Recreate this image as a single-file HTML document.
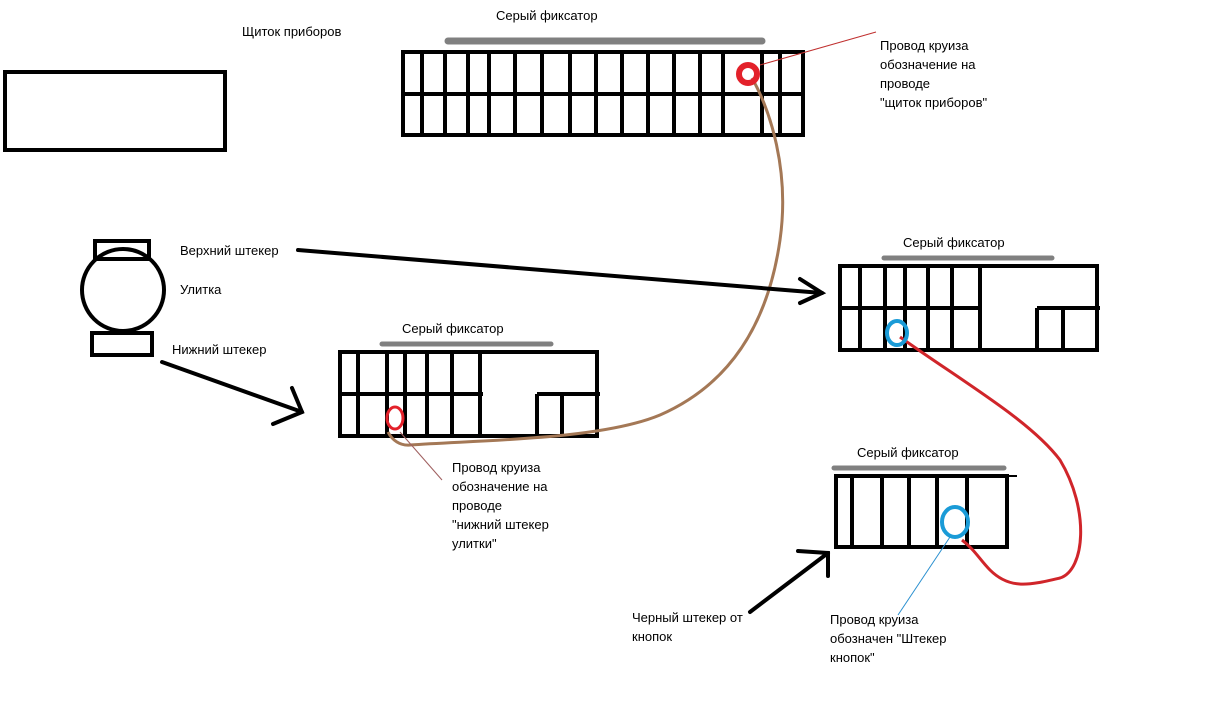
<!DOCTYPE html>
<html><head><meta charset="utf-8"><style>
html,body{margin:0;padding:0;background:#fff}
svg{display:block}
text{font-family:"Liberation Sans",sans-serif;font-size:13px;fill:#000}
</style></head><body>
<svg width="1214" height="706" viewBox="0 0 1214 706" xmlns="http://www.w3.org/2000/svg">
<rect width="1214" height="706" fill="#fff"/>
<g stroke-linecap="round" fill="none">
<!-- gray bars -->
<line x1="448" y1="41" x2="762" y2="41" stroke="#808080" stroke-width="7"/>
<line x1="884" y1="258" x2="1052" y2="258" stroke="#808080" stroke-width="5"/>
<line x1="382" y1="344" x2="551" y2="344" stroke="#808080" stroke-width="5"/>
<line x1="834" y1="468" x2="1004" y2="468" stroke="#808080" stroke-width="5"/>
</g>
<g stroke="#000" stroke-width="4" fill="none">
<!-- dashboard -->
<rect x="5" y="72" width="220" height="78"/>
<!-- top connector -->
<rect x="403" y="52" width="400" height="83"/>
<line x1="401" y1="94" x2="805" y2="94"/>
<line x1="422" y1="52" x2="422" y2="135"/><line x1="445" y1="52" x2="445" y2="135"/>
<line x1="468" y1="52" x2="468" y2="135"/><line x1="489" y1="52" x2="489" y2="135"/>
<line x1="515" y1="52" x2="515" y2="135"/><line x1="542" y1="52" x2="542" y2="135"/>
<line x1="570" y1="52" x2="570" y2="135"/><line x1="596" y1="52" x2="596" y2="135"/>
<line x1="622" y1="52" x2="622" y2="135"/><line x1="648" y1="52" x2="648" y2="135"/>
<line x1="674" y1="52" x2="674" y2="135"/><line x1="700" y1="52" x2="700" y2="135"/>
<line x1="723" y1="52" x2="723" y2="135"/><line x1="762" y1="52" x2="762" y2="135"/>
<line x1="780" y1="52" x2="780" y2="135"/>
<!-- right top connector -->
<polyline points="980,266 1097,266 1097,350 840,350 840,266 980,266"/>
<line x1="838" y1="308" x2="982" y2="308"/>
<line x1="1037" y1="350" x2="1037" y2="308"/><line x1="1037" y1="308" x2="1100" y2="308"/>
<line x1="1063" y1="308" x2="1063" y2="350"/>
<line x1="860" y1="266" x2="860" y2="350"/><line x1="885" y1="266" x2="885" y2="350"/>
<line x1="905" y1="266" x2="905" y2="350"/><line x1="928" y1="266" x2="928" y2="350"/>
<line x1="952" y1="266" x2="952" y2="350"/><line x1="980" y1="266" x2="980" y2="350"/>
<!-- middle left connector -->
<rect x="340" y="352" width="257" height="84"/>
<line x1="338" y1="394" x2="483" y2="394"/>
<line x1="537" y1="436" x2="537" y2="394"/><line x1="537" y1="394" x2="600" y2="394"/>
<line x1="562" y1="394" x2="562" y2="436"/>
<line x1="358" y1="352" x2="358" y2="436"/><line x1="387" y1="352" x2="387" y2="436"/>
<line x1="405" y1="352" x2="405" y2="436"/><line x1="427" y1="352" x2="427" y2="436"/>
<line x1="452" y1="352" x2="452" y2="436"/><line x1="480" y1="352" x2="480" y2="436"/>
<!-- bottom right connector -->
<rect x="836" y="476" width="171" height="71"/>
<line x1="1005" y1="476" x2="1017" y2="476" stroke-width="2"/>
<line x1="852" y1="476" x2="852" y2="547"/><line x1="882" y1="476" x2="882" y2="547"/>
<line x1="909" y1="476" x2="909" y2="547"/><line x1="937" y1="476" x2="937" y2="547"/>
<line x1="967" y1="476" x2="967" y2="547"/>
<!-- snail -->
<rect x="95" y="241" width="54" height="18"/>
<circle cx="123" cy="290" r="41"/>
<rect x="92" y="333" width="60" height="22"/>
</g>
<!-- wires -->
<path d="M752,78 C770,110 790,170 780,240 C770,310 740,380 660,415 C600,440 480,440 410,445 C400,446 392,440 388,432" stroke="#a47856" stroke-width="3" fill="none"/>
<path d="M900,337 C960,380 1030,420 1060,460 C1090,510 1085,570 1060,578 C1030,585 1010,590 990,570 C980,560 975,550 962,540" stroke="#d0252a" stroke-width="3" fill="none"/>
<line x1="760" y1="65" x2="876" y2="32" stroke="#c0302f" stroke-width="1"/>
<line x1="400" y1="432" x2="442" y2="480" stroke="#a06060" stroke-width="1"/>
<line x1="950" y1="537" x2="898" y2="615" stroke="#2a8fd0" stroke-width="1"/>
<!-- markers -->
<circle cx="748" cy="74" r="9" fill="none" stroke="#e3212a" stroke-width="6"/>
<ellipse cx="395" cy="418" rx="8" ry="11" fill="none" stroke="#e3212a" stroke-width="3"/>
<ellipse cx="897" cy="333" rx="10" ry="12" fill="none" stroke="#1a9bd7" stroke-width="4"/>
<ellipse cx="955" cy="522" rx="13" ry="15" fill="none" stroke="#1a9bd7" stroke-width="4"/>
<!-- arrows -->
<g stroke="#000" stroke-width="4" fill="none" stroke-linecap="round">
<line x1="298" y1="250" x2="822" y2="293"/>
<polyline points="800,279 822,293 800,303"/>
<line x1="162" y1="362" x2="302" y2="412"/>
<polyline points="292,388 302,412 273,424"/>
<line x1="750" y1="612" x2="828" y2="553"/>
<polyline points="798,551 828,553 828,576"/>
</g>
<!-- labels -->
<text x="496" y="20">Серый фиксатор</text>
<text x="242" y="36">Щиток приборов</text>
<text x="880" y="50">Провод круиза</text>
<text x="880" y="69">обозначение на</text>
<text x="880" y="88">проводе</text>
<text x="880" y="107">"щиток приборов"</text>
<text x="180" y="255">Верхний штекер</text>
<text x="180" y="294">Улитка</text>
<text x="172" y="354">Нижний штекер</text>
<text x="903" y="247">Серый фиксатор</text>
<text x="402" y="333">Серый фиксатор</text>
<text x="452" y="472">Провод круиза</text>
<text x="452" y="491">обозначение на</text>
<text x="452" y="510">проводе</text>
<text x="452" y="529">"нижний штекер</text>
<text x="452" y="548">улитки"</text>
<text x="857" y="457">Серый фиксатор</text>
<text x="632" y="622">Черный штекер от</text>
<text x="632" y="641">кнопок</text>
<text x="830" y="624">Провод круиза</text>
<text x="830" y="643">обозначен "Штекер</text>
<text x="830" y="662">кнопок"</text>
</svg>
</body></html>
